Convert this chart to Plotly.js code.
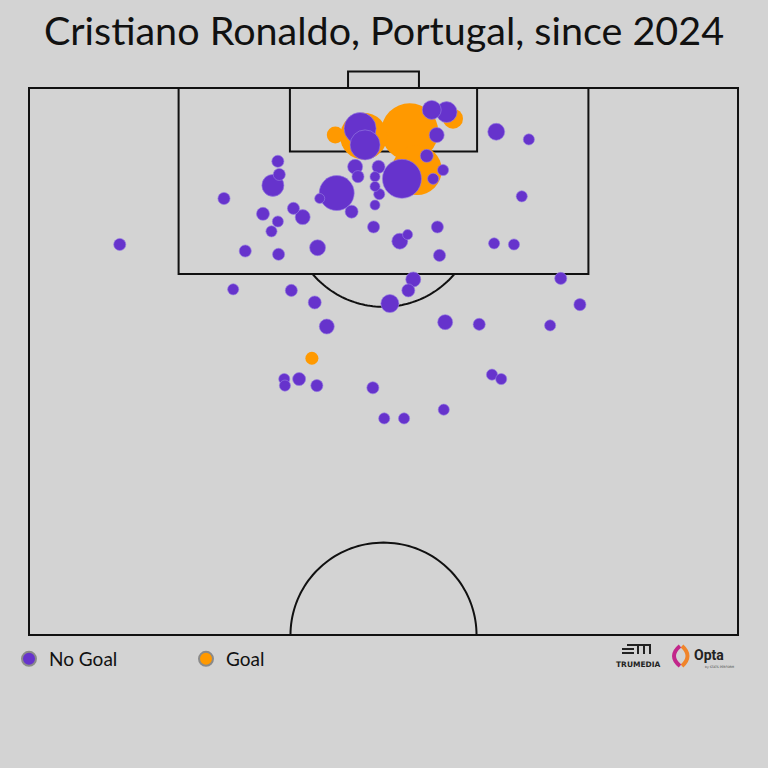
<!DOCTYPE html>
<html><head><meta charset="utf-8">
<script src="https://cdn.plot.ly/plotly-3.0.1.min.js"></script>
<style>html,body{margin:0;padding:0;background:#d3d3d3}#chart{width:768px;height:768px}</style>
</head><body><div id="chart"></div>
<script>
// ---- data (Opta-style pitch units: across 0-100, along 50-100, 100 = goal line) ----
const chartTitle = 'Cristiano Ronaldo, Portugal, since 2024';
const legendLabels = ['No Goal', 'Goal'];

const missAcross = [12.8,27.5,35.1,35.3,34.4,33.0,35.1,34.2,30.5,35.2,37.3,38.6,40.7,41.0,43.4,45.5,46.0,46.4,46.7,47.4,
  49.3,48.8,48.8,49.4,48.8,52.6,48.6,52.3,53.4,57.6,57.9,58.4,57.0,56.1,57.5,56.8,58.9,65.9,70.5,69.5,
  65.6,68.4,75.0,77.7,73.5,63.5,58.7,50.9,54.2,53.5,28.8,37.0,40.3,42.0,36.0,36.1,38.1,40.6,48.5,50.1,
  52.9,58.5,65.3,66.6];
const missAlong = [85.7,89.9,93.3,92.1,91.1,88.5,87.8,86.9,85.1,84.8,89.0,88.2,85.4,89.9,90.4,88.7,92.8,91.9,96.3,94.8,
  92.8,91.9,91.0,90.3,89.3,91.7,87.3,86.0,86.6,87.3,84.7,92.5,91.7,93.8,95.7,98.0,97.8,96.0,95.3,90.1,
  85.8,85.7,82.6,80.2,78.3,78.4,78.6,80.3,82.5,81.5,81.6,81.5,80.4,78.2,73.4,72.8,73.4,72.8,72.6,69.8,
  69.8,70.6,73.8,73.4];
const missXg = [0.026,0.026,0.026,0.026,0.086,0.030,0.022,0.022,0.026,0.026,0.026,0.040,0.045,0.018,0.218,0.030,0.040,0.026,0.182,0.160,
  0.030,0.018,0.018,0.022,0.018,0.270,0.026,0.045,0.018,0.026,0.026,0.022,0.022,0.030,0.040,0.064,0.078,0.051,0.022,0.022,
  0.022,0.022,0.026,0.026,0.022,0.026,0.040,0.058,0.040,0.030,0.022,0.026,0.030,0.040,0.022,0.022,0.030,0.026,0.026,0.022,
  0.022,0.022,0.022,0.022];

const goalAcross = [43.2,47.2,53.7,54.7,59.8,39.9];
const goalAlong  = [95.7,95.6,96.0,92.5,97.2,75.3];
const goalXg     = [0.051,0.393,0.578,0.444,0.071,0.030];

// ---- styling ----
const PURPLE = '#6633cc', ORANGE = '#ff9900', BG = '#d3d3d3', LINE = '#111111';
const sizeFromXg = xg => 75 * Math.sqrt(xg);

function sortedByXgDesc(a, b, g) {
  const idx = g.map((_, i) => i).sort((i, j) => g[j] - g[i]);
  return { x: idx.map(i => a[i]), y: idx.map(i => b[i]), s: idx.map(i => sizeFromXg(g[i])) };
}
const miss = sortedByXgDesc(missAcross, missAlong, missXg);
const goal = sortedByXgDesc(goalAcross, goalAlong, goalXg);

const traces = [
  { type: 'scatter', mode: 'markers', x: [null], y: [null], name: legendLabels[0], legendgroup: 'miss',
    marker: { color: PURPLE, size: 14, opacity: 1, line: { color: '#8a8a8a', width: 2 } }, hoverinfo: 'skip' },
  { type: 'scatter', mode: 'markers', x: [null], y: [null], name: legendLabels[1], legendgroup: 'goal',
    marker: { color: ORANGE, size: 14, opacity: 1, line: { color: '#8a8a8a', width: 2 } }, hoverinfo: 'skip' },
  { type: 'scatter', mode: 'markers', x: goal.x, y: goal.y, name: legendLabels[1], legendgroup: 'goal', showlegend: false,
    cliponaxis: false, marker: { color: ORANGE, size: goal.s, opacity: 1, line: { width: 0 } } },
  { type: 'scatter', mode: 'markers', x: miss.x, y: miss.y, name: legendLabels[0], legendgroup: 'miss', showlegend: false,
    cliponaxis: false, marker: { color: PURPLE, size: miss.s, opacity: 1, line: { color: 'rgba(150,125,225,0.8)', width: 0.8 } } }
];

// pitch geometry (same units)
const penSpot = 88.5, rx = 13.12, ry = 8.5;
function arcPath(cx, cy, rxx, ryy, t0, t1, n) {
  let p = '';
  for (let i = 0; i <= n; i++) {
    const t = t0 + (t1 - t0) * i / n;
    const x = cx + rxx * Math.sin(t), y = cy - ryy * Math.cos(t);
    p += (i ? ' L ' : 'M ') + x.toFixed(3) + ' ' + y.toFixed(3);
  }
  return p;
}
const tPen = Math.acos((penSpot - 83) / ry);
const lineStyle = { color: LINE, width: 2 };
const shapes = [
  { type: 'rect', xref: 'x', yref: 'y', x0: 0, x1: 100, y0: 50, y1: 100, line: lineStyle, layer: 'below' },
  { type: 'rect', xref: 'x', yref: 'y', x0: 21.1, x1: 78.9, y0: 83, y1: 100, line: lineStyle, layer: 'below' },
  { type: 'rect', xref: 'x', yref: 'y', x0: 36.8, x1: 63.2, y0: 94.2, y1: 100, line: lineStyle, layer: 'below' },
  { type: 'rect', xref: 'x', yref: 'y', x0: 45, x1: 55, y0: 100, y1: 101.5, line: lineStyle, layer: 'below' },
  { type: 'path', xref: 'x', yref: 'y', path: arcPath(50, penSpot, rx, ry, -tPen, tPen, 60), line: lineStyle, layer: 'below' },
  { type: 'path', xref: 'x', yref: 'y', path: arcPath(50, 50, rx, -8.45, -Math.PI / 2, Math.PI / 2, 80), line: lineStyle, layer: 'below' }
];

// logo decorations (paper coords from pixel positions)
const PX = px => (px - 10) / 748, PY = py => (645 - py) / 585;
const logoLine = { color: '#222', width: 2 };
shapes.push(
  { type: 'line', xref: 'paper', yref: 'paper', x0: PX(622), x1: PX(634), y0: PY(649), y1: PY(649), line: logoLine },
  { type: 'line', xref: 'paper', yref: 'paper', x0: PX(627), x1: PX(651), y0: PY(645), y1: PY(645), line: logoLine },
  { type: 'line', xref: 'paper', yref: 'paper', x0: PX(622), x1: PX(634), y0: PY(653), y1: PY(653), line: logoLine },
  { type: 'line', xref: 'paper', yref: 'paper', x0: PX(638), x1: PX(638), y0: PY(645), y1: PY(654), line: logoLine },
  { type: 'line', xref: 'paper', yref: 'paper', x0: PX(644), x1: PX(644), y0: PY(645), y1: PY(654), line: logoLine },
  { type: 'line', xref: 'paper', yref: 'paper', x0: PX(650), x1: PX(650), y0: PY(645), y1: PY(654), line: logoLine },
  { type: 'path', xref: 'paper', yref: 'paper',
    path: `M ${PX(680)} ${PY(646)} Q ${PX(668)} ${PY(656)} ${PX(680)} ${PY(666)}`, line: { color: '#c2268a', width: 4 } },
  { type: 'path', xref: 'paper', yref: 'paper',
    path: `M ${PX(682)} ${PY(646)} Q ${PX(693)} ${PY(656)} ${PX(682)} ${PY(666)}`, line: { color: '#f0842a', width: 4 } }
);
const annotations = [
  { xref: 'paper', yref: 'paper', x: PX(638), y: PY(664), text: '<b>TRUMEDIA</b>', showarrow: false,
    xanchor: 'center', yanchor: 'middle', font: { family: 'DejaVu Sans', size: 7.5, color: '#222' } },
  { xref: 'paper', yref: 'paper', x: PX(692), y: PY(655), text: '<b>Opta</b>', showarrow: false,
    xanchor: 'left', yanchor: 'middle', font: { family: 'Roboto', size: 14, color: '#222' } },
  { xref: 'paper', yref: 'paper', x: PX(720), y: PY(667), text: 'by STATS PERFORM', showarrow: false,
    xanchor: 'center', yanchor: 'middle', font: { family: 'DejaVu Sans', size: 3, color: '#444' } }
];

const layout = {
  width: 768, height: 768,
  paper_bgcolor: BG, plot_bgcolor: BG,
  margin: { l: 10, r: 10, t: 60, b: 123, autoexpand: false },
  xaxis: { range: [-2.68, 102.82], visible: false, fixedrange: true },
  yaxis: { range: [49.09, 102.56], visible: false, fixedrange: true },
  title: { text: chartTitle, x: 0.5, xanchor: 'center', xref: 'container', y: 1 - 31 / 768, yanchor: 'middle', yref: 'container',
    font: { family: 'Lato', size: 39.5, color: '#111' } },
  showlegend: true,
  legend: { orientation: 'h', xref: 'container', yref: 'container', x: 9 / 768, y: 1 - 659 / 768,
    xanchor: 'left', yanchor: 'middle', font: { family: 'Lato', size: 19, color: '#111' },
    entrywidth: 132, entrywidthmode: 'pixels', bgcolor: 'rgba(0,0,0,0)', traceorder: 'normal' },
  shapes: shapes,
  annotations: annotations,
  hovermode: false
};

Plotly.newPlot('chart', traces, layout, { displayModeBar: false, staticPlot: true });
</script>
</body></html>
